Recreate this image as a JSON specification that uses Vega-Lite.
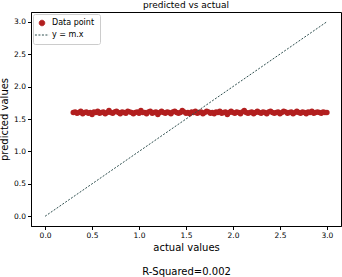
{
  "$schema": "https://vega.github.io/schema/vega-lite/v6.json",
  "autosize": "none",
  "width": 310,
  "height": 214,
  "padding": {"top": 12, "left": 31, "right": 1, "bottom": 51},
  "background": "white",
  "title": {"text": "predicted vs actual", "font": "DejaVu Sans", "fontSize": 9, "fontWeight": "normal", "color": "black", "anchor": "middle", "offset": 2},
  "config": {
    "view": {"stroke": "black", "strokeWidth": 1},
    "axis": {"labelFont": "DejaVu Sans", "titleFont": "DejaVu Sans", "labelFontSize": 7.5, "labelColor": "black", "titleFontSize": 10, "titleFontWeight": "normal", "titleColor": "black", "tickColor": "black", "domainColor": "black", "tickSize": 3.5, "grid": false, "labelPadding": 2},
    "legend": {"labelFont": "DejaVu Sans", "labelFontSize": 8, "labelColor": "black"}
  },
  "datasets": {
    "pts": [
      {"actual":0.30,"predicted":1.60},{"actual":0.32,"predicted":1.61},{"actual":0.34,"predicted":1.59},{"actual":0.36,"predicted":1.60},{"actual":0.38,"predicted":1.62},{"actual":0.40,"predicted":1.58},{"actual":0.42,"predicted":1.60},{"actual":0.44,"predicted":1.61},{"actual":0.46,"predicted":1.59},{"actual":0.48,"predicted":1.60},
      {"actual":0.50,"predicted":1.57},{"actual":0.52,"predicted":1.61},{"actual":0.54,"predicted":1.60},{"actual":0.56,"predicted":1.62},{"actual":0.58,"predicted":1.59},{"actual":0.60,"predicted":1.60},{"actual":0.62,"predicted":1.61},{"actual":0.64,"predicted":1.58},{"actual":0.66,"predicted":1.60},{"actual":0.68,"predicted":1.63},
      {"actual":0.70,"predicted":1.60},{"actual":0.72,"predicted":1.59},{"actual":0.74,"predicted":1.61},{"actual":0.76,"predicted":1.62},{"actual":0.78,"predicted":1.60},{"actual":0.80,"predicted":1.58},{"actual":0.82,"predicted":1.61},{"actual":0.84,"predicted":1.60},{"actual":0.86,"predicted":1.59},{"actual":0.88,"predicted":1.62},
      {"actual":0.90,"predicted":1.61},{"actual":0.92,"predicted":1.60},{"actual":0.94,"predicted":1.58},{"actual":0.96,"predicted":1.60},{"actual":0.98,"predicted":1.61},{"actual":1.00,"predicted":1.59},{"actual":1.02,"predicted":1.63},{"actual":1.04,"predicted":1.60},{"actual":1.06,"predicted":1.60},{"actual":1.08,"predicted":1.58},
      {"actual":1.10,"predicted":1.61},{"actual":1.12,"predicted":1.62},{"actual":1.14,"predicted":1.59},{"actual":1.16,"predicted":1.60},{"actual":1.18,"predicted":1.61},{"actual":1.20,"predicted":1.57},{"actual":1.22,"predicted":1.60},{"actual":1.24,"predicted":1.62},{"actual":1.26,"predicted":1.60},{"actual":1.28,"predicted":1.59},
      {"actual":1.30,"predicted":1.61},{"actual":1.32,"predicted":1.60},{"actual":1.34,"predicted":1.58},{"actual":1.36,"predicted":1.61},{"actual":1.38,"predicted":1.62},{"actual":1.40,"predicted":1.60},{"actual":1.42,"predicted":1.59},{"actual":1.44,"predicted":1.60},{"actual":1.46,"predicted":1.63},{"actual":1.48,"predicted":1.61},
      {"actual":1.50,"predicted":1.59},{"actual":1.52,"predicted":1.60},{"actual":1.54,"predicted":1.58},{"actual":1.56,"predicted":1.61},{"actual":1.58,"predicted":1.60},{"actual":1.60,"predicted":1.62},{"actual":1.62,"predicted":1.59},{"actual":1.64,"predicted":1.60},{"actual":1.66,"predicted":1.61},{"actual":1.68,"predicted":1.58},
      {"actual":1.70,"predicted":1.60},{"actual":1.72,"predicted":1.62},{"actual":1.74,"predicted":1.61},{"actual":1.76,"predicted":1.59},{"actual":1.78,"predicted":1.60},{"actual":1.80,"predicted":1.58},{"actual":1.82,"predicted":1.61},{"actual":1.84,"predicted":1.60},{"actual":1.86,"predicted":1.62},{"actual":1.88,"predicted":1.59},
      {"actual":1.90,"predicted":1.60},{"actual":1.92,"predicted":1.61},{"actual":1.94,"predicted":1.57},{"actual":1.96,"predicted":1.60},{"actual":1.98,"predicted":1.62},{"actual":2.00,"predicted":1.60},{"actual":2.02,"predicted":1.59},{"actual":2.04,"predicted":1.61},{"actual":2.06,"predicted":1.60},{"actual":2.08,"predicted":1.58},
      {"actual":2.10,"predicted":1.61},{"actual":2.12,"predicted":1.63},{"actual":2.14,"predicted":1.60},{"actual":2.16,"predicted":1.59},{"actual":2.18,"predicted":1.60},{"actual":2.20,"predicted":1.61},{"actual":2.22,"predicted":1.58},{"actual":2.24,"predicted":1.60},{"actual":2.26,"predicted":1.62},{"actual":2.28,"predicted":1.60},
      {"actual":2.30,"predicted":1.59},{"actual":2.32,"predicted":1.61},{"actual":2.34,"predicted":1.60},{"actual":2.36,"predicted":1.58},{"actual":2.38,"predicted":1.61},{"actual":2.40,"predicted":1.62},{"actual":2.42,"predicted":1.60},{"actual":2.44,"predicted":1.59},{"actual":2.46,"predicted":1.60},{"actual":2.48,"predicted":1.61},
      {"actual":2.50,"predicted":1.58},{"actual":2.52,"predicted":1.60},{"actual":2.54,"predicted":1.62},{"actual":2.56,"predicted":1.61},{"actual":2.58,"predicted":1.59},{"actual":2.60,"predicted":1.60},{"actual":2.62,"predicted":1.61},{"actual":2.64,"predicted":1.58},{"actual":2.66,"predicted":1.60},{"actual":2.68,"predicted":1.62},
      {"actual":2.70,"predicted":1.60},{"actual":2.72,"predicted":1.59},{"actual":2.74,"predicted":1.61},{"actual":2.76,"predicted":1.60},{"actual":2.78,"predicted":1.58},{"actual":2.80,"predicted":1.61},{"actual":2.82,"predicted":1.60},{"actual":2.84,"predicted":1.62},{"actual":2.86,"predicted":1.59},{"actual":2.88,"predicted":1.60},
      {"actual":2.90,"predicted":1.61},{"actual":2.92,"predicted":1.60},{"actual":2.94,"predicted":1.59},{"actual":2.96,"predicted":1.61},{"actual":2.98,"predicted":1.60},{"actual":3.00,"predicted":1.60}
    ],
    "line": [
      {"actual": 0, "predicted": 0},
      {"actual": 3, "predicted": 3}
    ]
  },
  "encoding": {
    "x": {"field": "actual", "type": "quantitative", "scale": {"domain": [-0.15, 3.15], "nice": false, "zero": false},
      "axis": {"values": [0, 0.5, 1, 1.5, 2, 2.5, 3], "format": ".1f", "title": ["actual values", "R-Squared=0.002"], "titleLineHeight": 24, "titlePadding": 3}},
    "y": {"field": "predicted", "type": "quantitative", "scale": {"domain": [-0.15, 3.15], "nice": false, "zero": false},
      "axis": {"values": [0, 0.5, 1, 1.5, 2, 2.5, 3], "format": ".1f", "title": "predicted values", "titlePadding": 4}}
  },
  "layer": [
    {
      "data": {"name": "pts"},
      "mark": {"type": "point", "filled": true, "size": 30, "opacity": 1},
      "encoding": {
        "color": {"datum": "Data point", "type": "nominal",
          "scale": {"domain": ["Data point", "y = m.x"], "range": ["#b21f1f", "#2f4f4f"]},
          "legend": {"title": null, "orient": "top-left", "offset": 2, "padding": 5, "labelOffset": 6, "fillColor": "white", "strokeColor": "#cccccc", "cornerRadius": 2, "rowPadding": 3, "symbolSize": 200,
            "encode": {"symbols": {"update": {
              "shape": {"signal": "datum.value == 'y = m.x' ? 'stroke' : 'circle'"},
              "size": {"signal": "datum.value == 'y = m.x' ? 200 : 30"},
              "strokeDash": {"signal": "datum.value == 'y = m.x' ? [2, 1.5] : [1, 0]"},
              "fill": {"signal": "datum.value == 'y = m.x' ? 'transparent' : '#b21f1f'"},
              "stroke": {"signal": "datum.value == 'y = m.x' ? '#2f4f4f' : '#b21f1f'"},
              "strokeWidth": {"value": 1}
            }}}}
        }
      }
    },
    {
      "data": {"name": "line"},
      "mark": {"type": "line", "strokeDash": [2, 1.5], "strokeWidth": 1},
      "encoding": {
        "color": {"datum": "y = m.x", "type": "nominal",
          "legend": {"title": null, "orient": "top-left", "offset": 2, "padding": 5, "labelOffset": 6, "fillColor": "white", "strokeColor": "#cccccc", "cornerRadius": 2, "rowPadding": 3, "symbolSize": 200,
            "encode": {"symbols": {"update": {
              "shape": {"signal": "datum.value == 'y = m.x' ? 'stroke' : 'circle'"},
              "size": {"signal": "datum.value == 'y = m.x' ? 200 : 30"},
              "strokeDash": {"signal": "datum.value == 'y = m.x' ? [2, 1.5] : [1, 0]"},
              "fill": {"signal": "datum.value == 'y = m.x' ? 'transparent' : '#b21f1f'"},
              "stroke": {"signal": "datum.value == 'y = m.x' ? '#2f4f4f' : '#b21f1f'"},
              "strokeWidth": {"value": 1}
            }}}}
        }
      }
    }
  ]
}
